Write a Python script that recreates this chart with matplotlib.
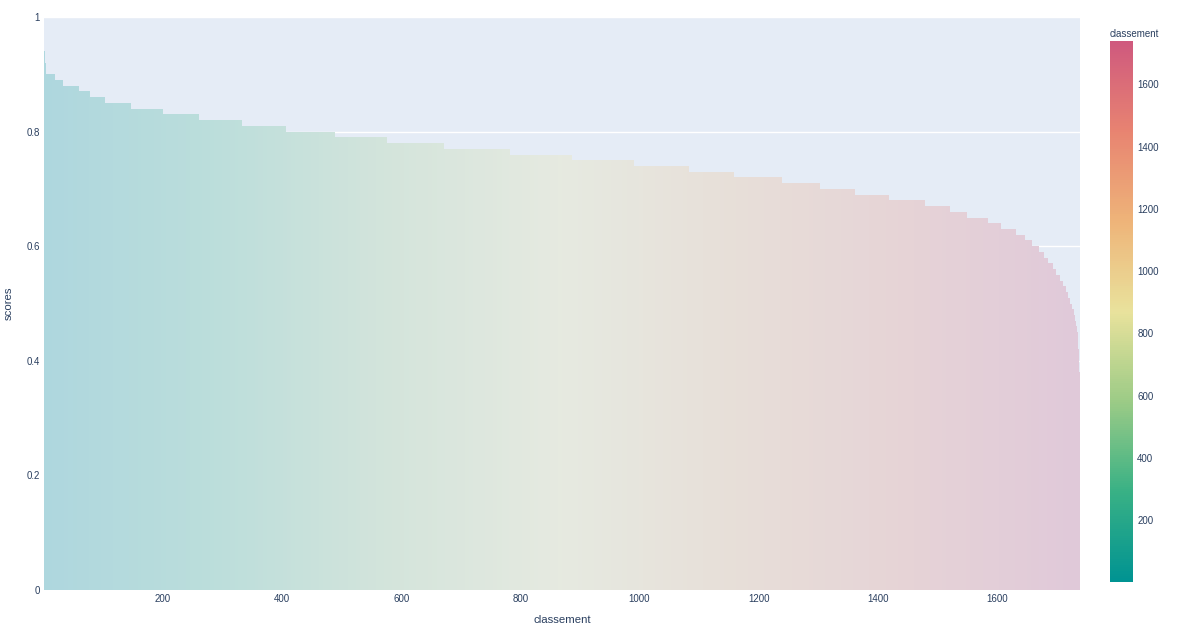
import numpy as np
import matplotlib
matplotlib.use('Agg')
import matplotlib.pyplot as plt
from matplotlib.colors import LinearSegmentedColormap, Normalize, to_rgb
from matplotlib.cm import ScalarMappable

plt.rcParams['font.family'] = ['Liberation Sans', 'DejaVu Sans']

# score levels and how many ranks share each level
score_levels = [0.94, 0.93, 0.92, 0.91, 0.90, 0.89, 0.88, 0.87, 0.86, 0.85,
                0.84, 0.83, 0.82, 0.81, 0.80, 0.79, 0.78, 0.77, 0.76, 0.75,
                0.74, 0.73, 0.72, 0.71, 0.70, 0.69, 0.68, 0.67, 0.66, 0.65,
                0.64, 0.63, 0.62, 0.61, 0.60, 0.59, 0.58, 0.57, 0.56, 0.55,
                0.54, 0.53, 0.52, 0.51, 0.50, 0.49, 0.48, 0.47, 0.46, 0.45,
                0.44, 0.42, 0.40, 0.38]
level_counts = [1, 1, 1, 1, 15, 13, 27, 18, 25, 44,
                54, 60, 72, 74, 82, 88, 96, 110, 104, 104,
                92, 76, 81, 64, 59, 57, 60, 42, 29, 34,
                22, 25, 15, 12, 13, 8, 7, 7, 6, 6,
                5, 5, 4, 4, 3, 3, 2, 2, 1, 1,
                1, 1, 1, 1]

scores = np.repeat(score_levels, level_counts)
classement = np.arange(1, len(scores) + 1)

temps = ['#009392', '#39b185', '#9ccb86', '#e9e29c', '#eeb479', '#e88471', '#cf597e']
cmap = LinearSegmentedColormap.from_list('temps', temps)
norm = Normalize(vmin=classement.min(), vmax=classement.max())

bg = np.array(to_rgb('#E5ECF6'))
# faded bars: mix the colour scale with the plot background, then draw opaque
bar_rgb = cmap(norm(classement))[:, :3] * 0.24 + bg * 0.76

text_col = '#2a3f5f'
tick_size = 7
fig = plt.figure(figsize=(12, 6.34), dpi=100)
ax = fig.add_axes([44 / 1200, 44 / 634, 1036 / 1200, 573 / 634])
ax.set_facecolor('#E5ECF6')

ax.set_yticks([0, 0.2, 0.4, 0.6, 0.8, 1])
ax.set_yticklabels(['0', '0.2', '0.4', '0.6', '0.8', '1'])
ax.yaxis.grid(True, color='white', linewidth=1)
ax.set_axisbelow(True)

ax.bar(classement, scores, width=1.0, color=bar_rgb, linewidth=0)

ax.set_xlim(0.5, len(scores) + 0.5)
ax.set_ylim(0, 1)
ax.set_xticks([200, 400, 600, 800, 1000, 1200, 1400, 1600])
for s in ax.spines.values():
    s.set_visible(False)
ax.tick_params(length=0, labelsize=tick_size, labelcolor=text_col, pad=3)
ax.set_xlabel('classement', fontsize=8.2, color=text_col)
ax.xaxis.set_label_coords(0.5, -25 / 573)
ax.set_ylabel('scores', fontsize=8.2, color=text_col)
ax.yaxis.set_label_coords(-30 / 1036, 0.5)

cax = fig.add_axes([1110 / 1200, 52 / 634, 23 / 1200, 541 / 634])
cb = fig.colorbar(ScalarMappable(norm=norm, cmap=cmap), cax=cax,
                  ticks=[200, 400, 600, 800, 1000, 1200, 1400, 1600])
cb.outline.set_visible(False)
cax.tick_params(length=0, labelsize=tick_size, labelcolor=text_col, pad=3)
cax.set_title('classement', fontsize=tick_size, color=text_col, pad=3, loc='left')

fig.savefig('out.png', dpi=100)
